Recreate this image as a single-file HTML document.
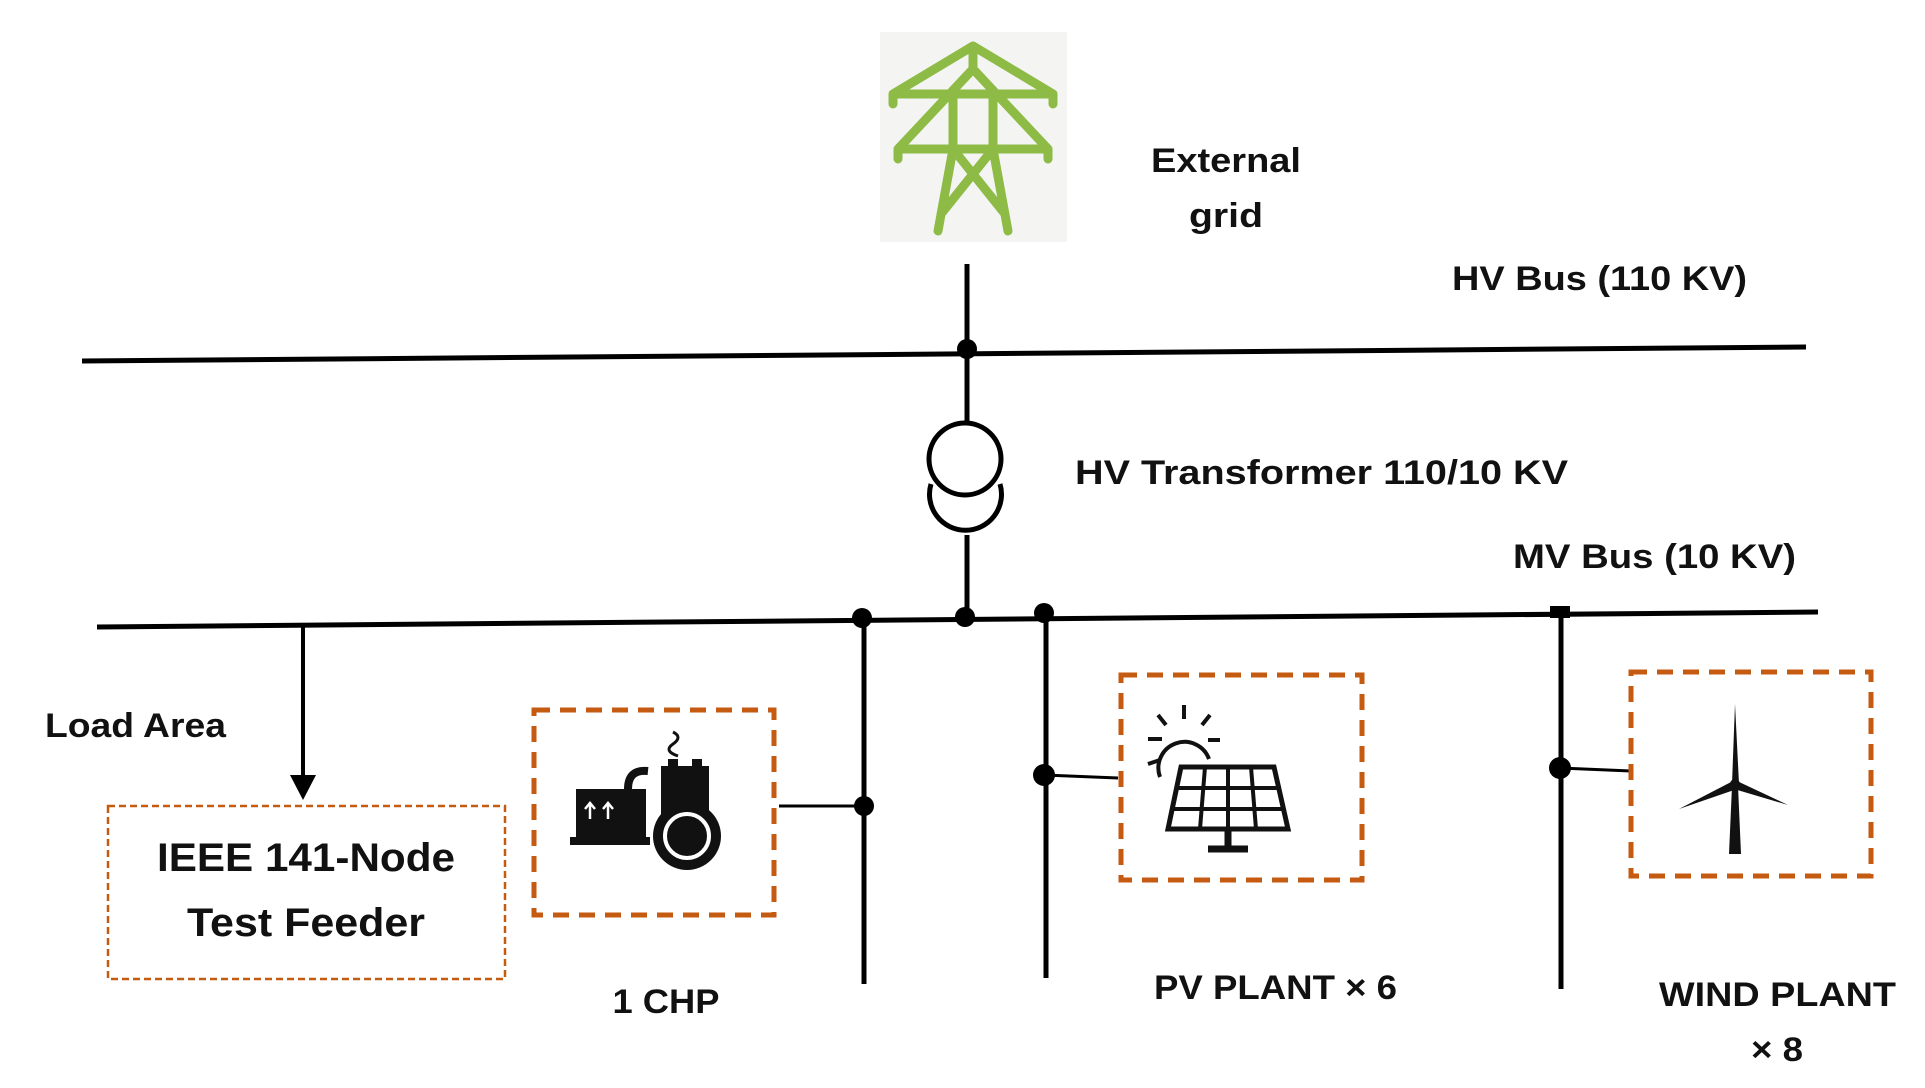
<!DOCTYPE html>
<html><head><meta charset="utf-8"><style>
html,body{margin:0;padding:0;background:#fff;}
svg{display:block;}
text{font-family:"Liberation Sans",sans-serif;font-weight:bold;fill:#111;}
</style></head><body>
<svg width="1925" height="1088" viewBox="0 0 1925 1088" xmlns="http://www.w3.org/2000/svg">
<g transform="translate(-2,-1)">
<!-- tower -->
<rect x="882" y="33" width="187" height="210" fill="#f4f5f3"/>
<g stroke="#8dbb45" stroke-width="9" fill="none" stroke-linejoin="round" stroke-linecap="round">
<path d="M975 47 L975 70 M975 47 L895 95 L895 105 M975 47 L1055 95 L1055 105 M895 95 L1055 95"/>
<path d="M975 70 L900 150 L900 160 M975 70 L1050 150 L1050 160 M900 150 L1050 150 M955 95 L955 150 M995 95 L995 150"/>
<path d="M955 150 L940 232 M995 150 L1010 232 M943 215 L995 150 M1007 215 L955 150 M955 150 L995 150 L1010 232"/>
</g>
<text x="1228" y="173" font-size="34" text-anchor="middle" textLength="150" lengthAdjust="spacingAndGlyphs">External</text>
<text x="1228" y="228" font-size="34" text-anchor="middle" textLength="74" lengthAdjust="spacingAndGlyphs">grid</text>
<!-- HV -->
<line x1="969" y1="265" x2="969" y2="422" stroke="#000" stroke-width="5"/>
<line x1="84" y1="362" x2="1808" y2="348" stroke="#000" stroke-width="5"/>
<circle cx="969" cy="350" r="10" fill="#000"/>
<text x="1454" y="291" font-size="34" textLength="295" lengthAdjust="spacingAndGlyphs">HV Bus (110 KV)</text>
<circle cx="967" cy="460" r="36" fill="none" stroke="#000" stroke-width="5"/>
<path d="M933 485 A36 36 0 1 0 1002 485" fill="none" stroke="#000" stroke-width="5"/>
<line x1="969" y1="536" x2="969" y2="618" stroke="#000" stroke-width="5"/>
<text x="1077" y="485" font-size="34" textLength="493" lengthAdjust="spacingAndGlyphs">HV Transformer 110/10 KV</text>
<!-- MV -->
<line x1="99" y1="628" x2="1820" y2="613" stroke="#000" stroke-width="5"/>
<text x="1515" y="569" font-size="34" textLength="283" lengthAdjust="spacingAndGlyphs">MV Bus (10 KV)</text>
<circle cx="864" cy="619" r="10" fill="#000"/>
<circle cx="967" cy="618" r="10" fill="#000"/>
<circle cx="1046" cy="614" r="10" fill="#000"/>
<rect x="1552" y="607" width="20" height="12" fill="#000"/>
<!-- load -->
<line x1="305" y1="627" x2="305" y2="780" stroke="#000" stroke-width="4"/>
<polygon points="292,776 318,776 305,801" fill="#000"/>
<text x="47" y="738" font-size="34" textLength="181" lengthAdjust="spacingAndGlyphs">Load Area</text>
<rect x="110" y="807" width="397" height="173" fill="none" stroke="#c55a11" stroke-width="2.5" stroke-dasharray="7,4"/>
<text x="308" y="872" font-size="40" text-anchor="middle" textLength="298" lengthAdjust="spacingAndGlyphs">IEEE 141-Node</text>
<text x="308" y="937" font-size="40" text-anchor="middle" textLength="238" lengthAdjust="spacingAndGlyphs">Test Feeder</text>
<!-- CHP -->
<line x1="866" y1="619" x2="866" y2="985" stroke="#000" stroke-width="5"/>
<line x1="781" y1="807" x2="866" y2="807" stroke="#000" stroke-width="3"/>
<circle cx="866" cy="807" r="10" fill="#000"/>
<rect x="536" y="711" width="240" height="205" fill="none" stroke="#c55a11" stroke-width="5" stroke-dasharray="16,10"/>
<g fill="#111">
<rect x="578" y="790" width="70" height="50"/>
<rect x="572" y="838" width="80" height="8"/>
<rect x="663" y="767" width="48" height="50"/>
<rect x="670" y="760" width="10" height="8"/><rect x="694" y="760" width="10" height="8"/>
<path d="M630 790 Q630 770 650 772" stroke="#111" stroke-width="8" fill="none"/>
<circle cx="689" cy="837" r="34" fill="#111"/>
<circle cx="689" cy="837" r="22" fill="none" stroke="#fff" stroke-width="4"/>
</g>
<path d="M675 733 q10 5 0 12 q-10 7 5 12" stroke="#111" stroke-width="3" fill="none"/>
<path d="M592 820 v-15 m-5 5 l5 -6 5 6 M610 820 v-15 m-5 5 l5 -6 5 6" stroke="#fff" stroke-width="2.5" fill="none"/>
<text x="668" y="1014" font-size="34" text-anchor="middle" textLength="107" lengthAdjust="spacingAndGlyphs">1 CHP</text>
<!-- PV -->
<line x1="1048" y1="614" x2="1048" y2="979" stroke="#000" stroke-width="5"/>
<line x1="1046" y1="776" x2="1120" y2="779" stroke="#000" stroke-width="3"/>
<circle cx="1046" cy="776" r="11" fill="#000"/>
<rect x="1123" y="676" width="241" height="205" fill="none" stroke="#c55a11" stroke-width="5" stroke-dasharray="16,10"/>
<g stroke="#111" stroke-width="4" fill="none">
<path d="M1162 778 A24 24 0 1 1 1211 760"/>
<path d="M1186 706 v14 M1160 716 l8 10 M1150 740 h14 M1212 716 l-8 10 M1150 765 l12 -4 M1222 741 h-12"/>
<polygon points="1183,768 1276,768 1290,830 1170,830" stroke-width="5"/>
<path d="M1180 789 h103 M1176 810 h110 M1207 768 l-5 62 M1230 768 v62 M1253 768 l5 62"/>
<path d="M1230 830 v20 M1210 850 h40" stroke-width="7"/>
</g>
<text x="1156" y="1000" font-size="34" textLength="243" lengthAdjust="spacingAndGlyphs">PV PLANT × 6</text>
<!-- Wind -->
<line x1="1563" y1="613" x2="1563" y2="990" stroke="#000" stroke-width="5"/>
<line x1="1562" y1="769" x2="1633" y2="772" stroke="#000" stroke-width="3"/>
<circle cx="1562" cy="769" r="11" fill="#000"/>
<rect x="1633" y="673" width="240" height="204" fill="none" stroke="#c55a11" stroke-width="5" stroke-dasharray="16,10"/>
<g fill="#111">
<polygon points="1734,787 1740,787 1743,855 1731,855"/>
<polygon points="1734,785 1737,705 1741,785"/>
<polygon points="1735,782 1681,810 1739,790"/>
<polygon points="1739,782 1790,806 1736,790"/>
<circle cx="1737" cy="785" r="5"/>
</g>
<text x="1661" y="1007" font-size="34" textLength="237" lengthAdjust="spacingAndGlyphs">WIND PLANT</text>
<text x="1779" y="1062" font-size="34" text-anchor="middle" textLength="52" lengthAdjust="spacingAndGlyphs">× 8</text>
</g>
</svg>
</body></html>
